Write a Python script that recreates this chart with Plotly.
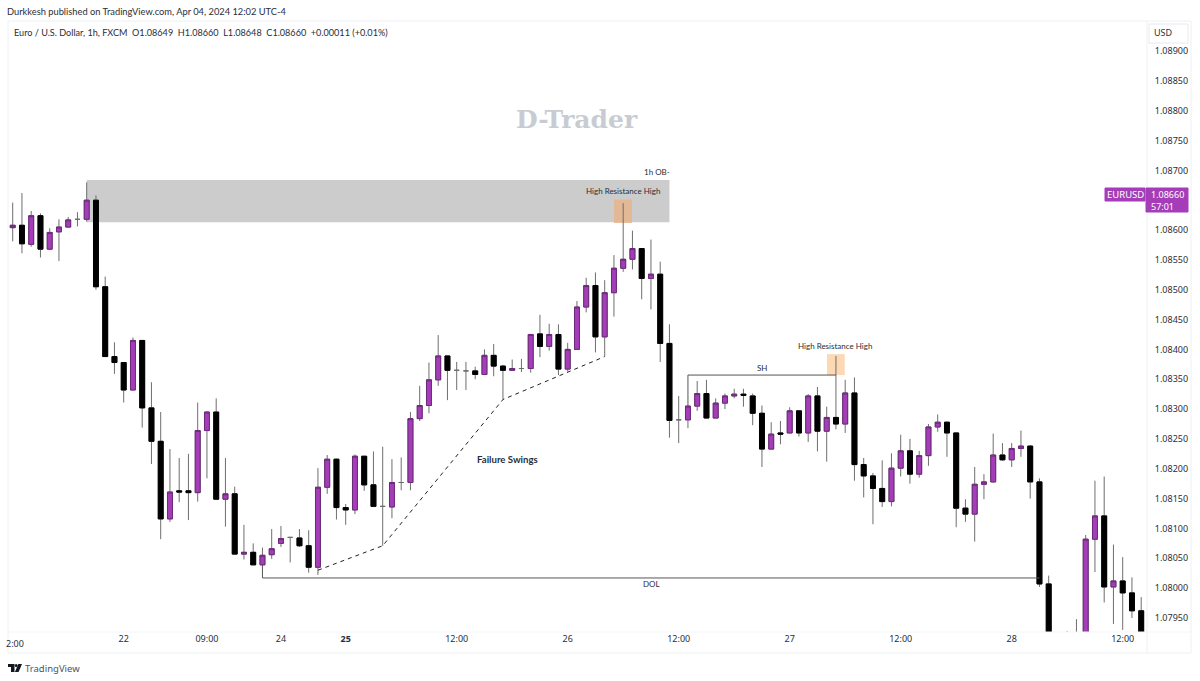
import plotly.graph_objects as go

OPEN = [1.08604,1.08608,1.08576,1.08624,1.08568,1.08597,1.08605,1.08618,1.08618,1.08650,1.08505,1.08388,1.08378,1.08332,1.08415,1.08302,1.08246,1.08116,1.08163,1.08163,1.08160,1.08264,1.08295,1.08149,1.08158,1.08057,1.08060,1.08039,1.08056,1.08075,1.08085,1.08084,1.08071,1.08035,1.08169,1.08216,1.08135,1.08131,1.08221,1.08173,1.08137,1.08136,1.08177,1.08177,1.08284,1.08306,1.08349,1.08389,1.08365,1.08364,1.08364,1.08358,1.08390,1.08372,1.08365,1.08368,1.08368,1.08426,1.08405,1.08425,1.08367,1.08400,1.08471,1.08507,1.08421,1.08495,1.08536,1.08551,1.08569,1.08519,1.08526,1.08410,1.08282,1.08282,1.08305,1.08326,1.08285,1.08310,1.08322,1.08325,1.08322,1.08293,1.08233,1.08260,1.08260,1.08297,1.08260,1.08322,1.08263,1.08286,1.08275,1.08327,1.08207,1.08188,1.08167,1.08145,1.08201,1.08230,1.08191,1.08222,1.08270,1.08278,1.08260,1.08134,1.08124,1.08174,1.08178,1.08223,1.08215,1.08234,1.08238,1.08178,1.08007,1.07870,1.07880,1.07880,1.07905,1.08082,1.08121,1.08002,1.08012,1.07992,1.07962]
HIGH = [1.08646,1.08662,1.08632,1.08628,1.08603,1.08618,1.08622,1.08630,1.08680,1.08658,1.08522,1.08412,1.08378,1.08420,1.08415,1.08345,1.08295,1.08233,1.08218,1.08225,1.08311,1.08296,1.08318,1.08218,1.08170,1.08106,1.08075,1.08068,1.08099,1.08104,1.08085,1.08099,1.08097,1.08201,1.08223,1.08217,1.08141,1.08224,1.08221,1.08229,1.08237,1.08216,1.08219,1.08295,1.08339,1.08378,1.08424,1.08389,1.08379,1.08379,1.08371,1.08400,1.08409,1.08374,1.08383,1.08384,1.08426,1.08458,1.08443,1.08442,1.08411,1.08481,1.08520,1.08529,1.08516,1.08558,1.08645,1.08599,1.08570,1.08584,1.08547,1.08442,1.08322,1.08305,1.08347,1.08349,1.08318,1.08326,1.08334,1.08334,1.08326,1.08306,1.08278,1.08280,1.08303,1.08297,1.08325,1.08337,1.08304,1.08389,1.08349,1.08353,1.08218,1.08193,1.08214,1.08226,1.08257,1.08250,1.08230,1.08275,1.08291,1.08279,1.08260,1.08149,1.08203,1.08191,1.08259,1.08243,1.08243,1.08264,1.08239,1.08184,1.08021,1.07910,1.07928,1.07948,1.08089,1.08180,1.08187,1.08073,1.08052,1.08018,1.07985]
LOW = [1.08581,1.08561,1.08572,1.08554,1.08567,1.08548,1.08604,1.08606,1.08614,1.08500,1.08388,1.08359,1.08311,1.08332,1.08269,1.08208,1.08082,1.08111,1.08144,1.08114,1.08145,1.08184,1.08149,1.08103,1.08057,1.08048,1.08039,1.08039,1.08049,1.08069,1.08043,1.08069,1.08026,1.08022,1.08158,1.08115,1.08106,1.08124,1.08163,1.08137,1.08071,1.08117,1.08164,1.08164,1.08280,1.08293,1.08339,1.08315,1.08332,1.08332,1.08350,1.08357,1.08355,1.08316,1.08365,1.08362,1.08361,1.08387,1.08398,1.08357,1.08363,1.08399,1.08462,1.08395,1.08388,1.08455,1.08530,1.08534,1.08484,1.08467,1.08379,1.08252,1.08243,1.08268,1.08297,1.08285,1.08285,1.08300,1.08318,1.08304,1.08273,1.08203,1.08233,1.08241,1.08260,1.08254,1.08245,1.08229,1.08212,1.08266,1.08260,1.08180,1.08152,1.08107,1.08136,1.08137,1.08187,1.08175,1.08185,1.08205,1.08262,1.08220,1.08102,1.08111,1.08078,1.08149,1.08177,1.08213,1.08203,1.08220,1.08150,1.08002,1.07860,1.07850,1.07860,1.07860,1.07890,1.08027,1.07976,1.07940,1.07930,1.07950,1.07900]
CLOSE = [1.08608,1.08577,1.08624,1.08568,1.08596,1.08605,1.08617,1.08618,1.08650,1.08505,1.08388,1.08378,1.08332,1.08415,1.08302,1.08246,1.08116,1.08161,1.08161,1.08160,1.08264,1.08295,1.08149,1.08158,1.08057,1.08060,1.08039,1.08055,1.08066,1.08083,1.08085,1.08071,1.08035,1.08169,1.08216,1.08135,1.08131,1.08221,1.08173,1.08137,1.08137,1.08177,1.08177,1.08284,1.08306,1.08349,1.08389,1.08365,1.08365,1.08364,1.08358,1.08390,1.08372,1.08365,1.08368,1.08368,1.08425,1.08405,1.08425,1.08367,1.08400,1.08471,1.08507,1.08421,1.08495,1.08536,1.08551,1.08569,1.08519,1.08526,1.08410,1.08281,1.08282,1.08305,1.08326,1.08285,1.08310,1.08322,1.08325,1.08323,1.08293,1.08233,1.08258,1.08258,1.08297,1.08260,1.08322,1.08263,1.08286,1.08275,1.08327,1.08207,1.08188,1.08167,1.08145,1.08201,1.08230,1.08191,1.08222,1.08270,1.08278,1.08260,1.08134,1.08124,1.08174,1.08178,1.08223,1.08215,1.08234,1.08238,1.08178,1.08007,1.07880,1.07880,1.07900,1.07905,1.08082,1.08121,1.08002,1.08012,1.07992,1.07962,1.07920]
BARS = list(range(len(OPEN)))

PRICE_TICKS = [1.0795,1.0800,1.0805,1.0810,1.0815,1.0820,1.0825,1.0830,1.0835,1.0840,1.0845,1.0850,1.0855,1.0860,1.0870,1.0875,1.0880,1.0885,1.0890]
TIME_TICKS = [12,21,29,36,48,60,72,84,96,108,120]
TIME_LABELS = ["22","09:00","24","<b>25</b>","12:00","26","12:00","27","12:00","28","12:00"]

OB_ZONE_BARS = [8, 71]
OB_ZONE_PRICE = [1.08613, 1.08684]
HRH1_BARS = [65.0, 66.95]
HRH1_PRICE = [1.08612, 1.08651]
HRH2_BARS = [88.03, 89.95]
HRH2_PRICE = [1.08357, 1.08392]
SH_BARS = [73, 73, 89]
SH_PRICE = [1.08305, 1.08357, 1.08357]
DOL_BARS = [27, 27, 111]
DOL_PRICE = [1.08039, 1.08017, 1.08017]
SWING_BARS = [33, 40, 53, 64]
SWING_PRICE = [1.08030, 1.08071, 1.08316, 1.08388]

PURPLE = "#a53db8"
BORDER = "#6d2a7c"
WICK = "#6e6e6e"
TXT = "#2a2e39"
FONT = "Noto Sans"

L, R, T, B = 8, 1147, 21, 632
XPX = 9.25
X0 = 12.7
xrange = [(L - X0) / XPX, (R - X0) / XPX]
PX_PER_PRICE = 29.84 / 0.0005
yrange = [1.089 - (B - 51) / PX_PER_PRICE, 1.089 + (51 - T) / PX_PER_PRICE]

def px(x):
    return (x - L) / (R - L)

def py(y):
    return (B - y) / (B - T)

fig = go.Figure()
fig.add_trace(go.Candlestick(
    x=BARS, open=OPEN, high=HIGH, low=LOW, close=CLOSE, whiskerwidth=0,
    increasing=dict(line=dict(color=WICK, width=1), fillcolor=WICK),
    decreasing=dict(line=dict(color=WICK, width=1), fillcolor=WICK),
    showlegend=False, hoverinfo="skip"))
body_o = [o if o != c else None for o, c in zip(OPEN, CLOSE)]
body_c = [c if o != c else None for o, c in zip(OPEN, CLOSE)]
body_h = [max(o, c) if o != c else None for o, c in zip(OPEN, CLOSE)]
body_l = [min(o, c) if o != c else None for o, c in zip(OPEN, CLOSE)]
fig.add_trace(go.Candlestick(
    x=BARS, open=body_o, high=body_h, low=body_l, close=body_c, whiskerwidth=0,
    increasing=dict(line=dict(color=BORDER, width=1), fillcolor=PURPLE),
    decreasing=dict(line=dict(color="#000000", width=1), fillcolor="#000000"),
    showlegend=False, hoverinfo="skip"))
fig.add_trace(go.Scatter(x=SH_BARS, y=SH_PRICE, mode="lines", line=dict(color="#555555", width=1), showlegend=False, hoverinfo="skip"))
fig.add_trace(go.Scatter(x=DOL_BARS, y=DOL_PRICE, mode="lines", line=dict(color="#555555", width=1), showlegend=False, hoverinfo="skip"))
fig.add_trace(go.Scatter(x=SWING_BARS, y=SWING_PRICE, mode="lines", line=dict(color="#222222", width=1, dash="4px,4px"), showlegend=False, hoverinfo="skip"))

shapes = [
    dict(type="rect", layer="below", x0=OB_ZONE_BARS[0], x1=OB_ZONE_BARS[1], y0=OB_ZONE_PRICE[0], y1=OB_ZONE_PRICE[1], fillcolor="#cccccc", line_width=0),
    dict(type="rect", layer="below", x0=HRH1_BARS[0], x1=HRH1_BARS[1], y0=HRH1_PRICE[0], y1=HRH1_PRICE[1], fillcolor="#e3b894", line_width=0),
    dict(type="rect", layer="below", x0=HRH2_BARS[0], x1=HRH2_BARS[1], y0=HRH2_PRICE[0], y1=HRH2_PRICE[1], fillcolor="#fcd8b4", line_width=0),
]

def frame(x0, y0, x1, y1, color="#eef0f3", **kw):
    return dict(type="rect", xref="paper", yref="paper", x0=px(x0), x1=px(x1), y0=py(y0), y1=py(y1), line=dict(color=color, width=1), **kw)

shapes += [
    frame(8, 21, 1191, 653),
    dict(type="line", xref="paper", yref="paper", x0=px(1147), x1=px(1147), y0=py(21), y1=py(653), line=dict(color="#eef0f3", width=1)),
    dict(type="line", xref="paper", yref="paper", x0=px(8), x1=px(1191), y0=py(632), y1=py(632), line=dict(color="#f4f5f7", width=1)),
    frame(1149, 24, 1188, 43, color="#e8eaee", fillcolor="#ffffff"),
    frame(1146, 188, 1188, 212, color=PURPLE, fillcolor=PURPLE),
    frame(1105, 188, 1145, 201, color=PURPLE, fillcolor=PURPLE),
]

def poly(points):
    d = "M " + " L ".join(f"{px(a):.5f},{py(b):.5f}" for a, b in points) + " Z"
    return dict(type="path", xref="paper", yref="paper", path=d, fillcolor="#131722", line_width=0)

shapes += [
    poly([(8, 664), (14.5, 664), (14.5, 672), (11, 672), (11, 667), (8, 667)]),
    dict(type="circle", xref="paper", yref="paper", x0=px(14.8), x1=px(17.6), y0=py(664), y1=py(667), fillcolor="#131722", line_width=0),
    poly([(18.3, 664), (22, 664), (18.6, 672), (14.9, 672)]),
]

def note(text, x, y, size=8.5, color=TXT, anchor="center", bold=False, family=FONT, **kw):
    return dict(text=f"<b>{text}</b>" if bold else text, xref="paper", yref="paper", x=px(x), y=py(y), xanchor=anchor, yanchor="middle",
                showarrow=False, borderpad=0, borderwidth=0, font=dict(size=size, color=color, family=family), **kw)

annotations = [
    note("Durkkesh published on TradingView.com, Apr 04, 2024 12:02 UTC-4", 7, 12, size=9.3, anchor="left", family="Lato"),
    note("Euro / U.S. Dollar, 1h, FXCM&nbsp;&nbsp;O1.08649&nbsp;&nbsp;H1.08660&nbsp;&nbsp;L1.08648&nbsp;&nbsp;C1.08660&nbsp;&nbsp;+0.00011 (+0.01%)", 14, 33, size=9.1, anchor="left", family="Lato"),
    note("D-Trader", 577, 119, size=25, color="#c8ccd2", bold=True, family="DejaVu Serif"),
    note("1h OB-", 657, 172, size=8, family="Lato"),
    note("High Resistance High", 623, 191, size=8, family="Lato"),
    note("High Resistance High", 835, 346, size=8, family="Lato"),
    note("SH", 762, 368, size=8, family="Lato"),
    note("Failure Swings", 507, 459, size=9.6, bold=True, family="Lato"),
    note("DOL", 651, 584, size=8, family="Lato"),
    note("USD", 1163, 33, size=9),
    note("EURUSD", 1125, 194.5, size=9.5, color="#ffffff"),
    note("1.08660", 1151, 194, size=9, color="#ffffff", anchor="left"),
    note("57:01", 1151, 206, size=9, color="#ffffff", anchor="left"),
    note("2:00", 6, 643, size=9, anchor="left"),
    note("TradingView", 25, 668, size=9.5, color="#50535e", anchor="left"),
]

fig.update_layout(
    width=1200, height=681, autosize=False,
    margin=dict(l=L, r=1200 - R, t=T, b=681 - B, pad=0),
    paper_bgcolor="#ffffff", plot_bgcolor="#ffffff",
    shapes=shapes, annotations=annotations, showlegend=False, boxgap=0.24,
    font=dict(family=FONT, color=TXT),
    xaxis=dict(range=xrange, tickmode="array", tickvals=TIME_TICKS, ticktext=TIME_LABELS, ticks="", ticklen=0,
               showgrid=False, zeroline=False, showline=False, rangeslider=dict(visible=False), tickfont=dict(size=9), automargin=False),
    yaxis=dict(range=yrange, side="right", tickmode="array", tickvals=PRICE_TICKS, ticktext=[f"{v:.5f}" for v in PRICE_TICKS], ticks="outside", ticklen=5, tickcolor="rgba(0,0,0,0)",
               showgrid=False, zeroline=False, showline=False, tickfont=dict(size=9), automargin=False),
)

fig.write_html("out.html", config={"displayModeBar": False}, post_script="document.body.style.margin='0';document.body.style.overflow='hidden';")
